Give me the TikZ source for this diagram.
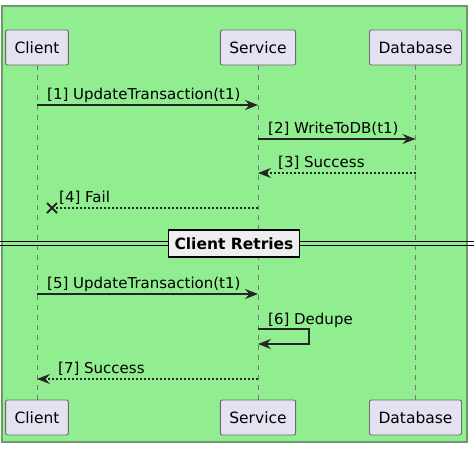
\documentclass[tikz,border=0pt]{standalone}
\usepackage{fontspec}
\setmainfont{DejaVu Sans}
\usetikzlibrary{arrows.meta, positioning, calc}
\definecolor{seqgreen}{HTML}{90EE90}
\definecolor{seqframe}{HTML}{6F9A6F}
\definecolor{partfill}{HTML}{E2E2F0}
\definecolor{partline}{HTML}{6A6A6A}
\definecolor{lifegray}{HTML}{777777}
\definecolor{divfill}{HTML}{EEEEEE}

\tikzset{
    participant/.style={rectangle, rounded corners=2pt, fill=partfill, draw=partline, line width=0.9pt,
        minimum height=35pt, inner xsep=9pt, font=\fontsize{15.5}{18}\selectfont},
    lifeline/.style={lifegray, line width=0.6pt, dash pattern=on 5pt off 5pt},
    msg/.style={-{Stealth[length=13pt, width=10pt, inset=4.5pt]}, line width=1.1pt, black!85},
    reply/.style={msg, dash pattern=on 2pt off 2pt},
    msglabel/.style={anchor=base west, inner sep=0pt, font=\fontsize{15}{18}\selectfont}
}

\begin{document}
\begin{tikzpicture}[x=1pt, y=-1pt]
    \useasboundingbox (0,0) rectangle (474,448);

    % Frame
    \draw[fill=seqgreen, draw=seqframe, line width=1.2pt] (2,6) rectangle (467,442);

    % Participants
    \node[participant] (clientTop) at (37,47.5) {Client};
    \node[participant] (serviceTop) at (258,47.5) {Service};
    \node[participant] (dbTop) at (415.5,47.5) {Database};
    \node[participant] (clientBot) at (37,417.5) {Client};
    \node[participant] (serviceBot) at (258,417.5) {Service};
    \node[participant] (dbBot) at (415.5,417.5) {Database};

    % Lifelines
    \draw[lifeline] (clientTop) -- (clientBot);
    \draw[lifeline] (serviceTop) -- (serviceBot);
    \draw[lifeline] (dbTop) -- (dbBot);

    % Message points
    \coordinate (c1) at (37,105);  \coordinate (s1) at (258,105);
    \coordinate (s2) at (258,139); \coordinate (d2) at (415.5,139);
    \coordinate (d3) at (415.5,173); \coordinate (s3) at (258,173);
    \coordinate (s4) at (258,208); \coordinate (x4) at (52,208);
    \coordinate (c5) at (37,294);  \coordinate (s5) at (258,294);
    \coordinate (s6) at (258,329); \coordinate (s6b) at (258,344);
    \coordinate (s7) at (258,379); \coordinate (c7) at (37,379);

    % First attempt
    \draw[msg] (c1) -- (s1);
    \node[msglabel] at ($(c1)+(10,-6)$) {[1] UpdateTransaction(t1)};
    \draw[msg] (s2) -- (d2);
    \node[msglabel] at ($(s2)+(10,-6)$) {[2] WriteToDB(t1)};
    \draw[reply] (d3) -- (s3);
    \node[msglabel] at ($(s3)+(20,-6)$) {[3] Success};
    \draw[line width=1.1pt, black!85, dash pattern=on 2pt off 2pt] (s4) -- (x4);
    \draw[line width=1.8pt, black!85] ($(x4)+(-5,-5)$) -- ($(x4)+(5,5)$)
        ($(x4)+(-5,5)$) -- ($(x4)+(5,-5)$);
    \node[msglabel] at ($(x4)+(7,-6)$) {[4] Fail};

    % Divider
    \draw[fill=white, line width=1pt] (0,241.5) -- (474,241.5) (0,245.5) -- (474,245.5);
    \node[rectangle, fill=divfill, draw=black, line width=1.8pt, minimum width=131pt, minimum height=27pt,
        font=\fontsize{15.5}{18}\selectfont\bfseries] (retry) at (234,243.5) {Client Retries};

    % Second attempt
    \draw[msg] (c5) -- (s5);
    \node[msglabel] at ($(c5)+(10,-6)$) {[5] UpdateTransaction(t1)};
    \draw[msg] (s6) -- ++(51,0) |- (s6b);
    \node[msglabel] at ($(s6)+(10,-5)$) {[6] Dedupe};
    \draw[reply] (s7) -- (c7);
    \node[msglabel] at ($(c7)+(21,-6)$) {[7] Success};
\end{tikzpicture}
\end{document}
